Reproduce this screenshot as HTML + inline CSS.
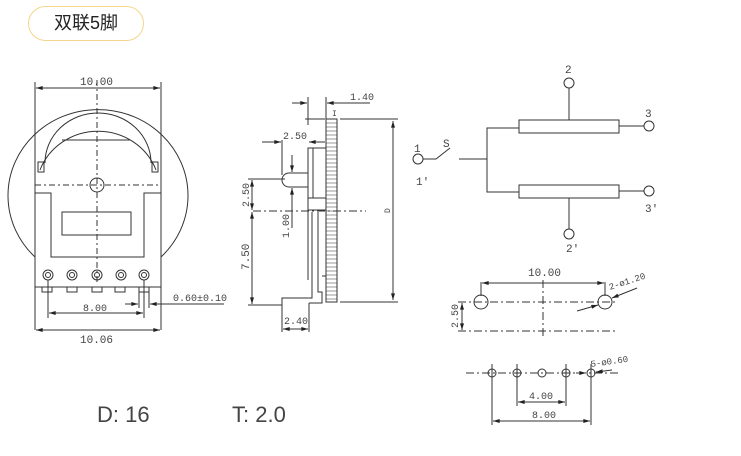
<!DOCTYPE html>
<html><head><meta charset="utf-8"><style>
body{margin:0;background:#fff;width:741px;height:456px;overflow:hidden;position:relative}
.pill{position:absolute;left:28px;top:6px;width:116px;height:35px;border:1.5px solid #f3d68c;border-radius:18px;box-sizing:border-box;font:18px "Liberation Sans","Noto Sans CJK SC",sans-serif;color:#222;text-align:center;line-height:33px}
svg{position:absolute;left:0;top:0}
text{font-family:"Liberation Mono",monospace;fill:#444}
</style></head><body>
<div class="pill">双联5脚</div>
<svg width="741" height="456" viewBox="0 0 741 456">
<defs><marker id="a" viewBox="0 0 10 6" refX="10" refY="3" markerWidth="7" markerHeight="4" orient="auto-start-reverse"><path d="M0,0L10,3L0,6z" fill="#222"/></marker></defs>
<g stroke="#333" stroke-width="1" fill="none">
<line x1="35" y1="82" x2="35" y2="330"/><line x1="161" y1="82" x2="161" y2="330"/>
<line x1="36" y1="88" x2="160" y2="88" marker-start="url(#a)" marker-end="url(#a)"/>
<path d="M35,257 A90,86 0 1,1 161,257"/>
<path d="M40,170 A62,60 0 0,1 156,170"/>
<path d="M45,163 A53,50 0 0,1 151,163"/>
<line x1="62" y1="140" x2="130" y2="140"/>
<rect x="38" y="162" width="6" height="10"/><rect x="152" y="162" width="6" height="10"/>
<polyline points="35,193 51,193 51,257 144,257 144,193 161,193"/>
<line x1="35" y1="287" x2="161" y2="287"/>
<rect x="62" y="212" width="69" height="23"/>
<circle cx="97" cy="185" r="7"/>
<g stroke-dasharray="6,3,2,3"><line x1="35" y1="185" x2="161" y2="185"/><line x1="97" y1="80" x2="97" y2="285"/></g>
<g><circle cx="48" cy="275" r="5"/><circle cx="72" cy="275" r="5"/><circle cx="97" cy="275" r="5"/><circle cx="121" cy="275" r="5"/><circle cx="144" cy="275" r="5"/>
<circle cx="48" cy="275" r="2.5"/><circle cx="72" cy="275" r="2.5"/><circle cx="97" cy="275" r="2.5"/><circle cx="121" cy="275" r="2.5"/><circle cx="144" cy="275" r="2.5"/></g>
<rect x="42" y="287" width="10" height="5"/><rect x="67" y="287" width="10" height="5"/><rect x="92" y="287" width="10" height="5"/><rect x="115" y="287" width="10" height="5"/><rect x="139" y="287" width="10" height="5"/>
<line x1="48" y1="280" x2="48" y2="318"/><line x1="144" y1="280" x2="144" y2="318"/>
<line x1="139" y1="292" x2="139" y2="308"/><line x1="149" y1="292" x2="149" y2="308"/>
<line x1="49" y1="313" x2="143" y2="313" marker-start="url(#a)" marker-end="url(#a)"/>
<line x1="125" y1="304" x2="138" y2="304" marker-end="url(#a)"/><line x1="224" y1="304" x2="150" y2="304" marker-end="url(#a)"/>
<line x1="36" y1="330" x2="160" y2="330" marker-start="url(#a)" marker-end="url(#a)"/>
<rect x="326" y="119" width="11" height="183"/>
<g stroke-width="0.6"><path d="M326,123H337M326,127H337M326,131H337M326,135H337M326,139H337M326,143H337M326,147H337M326,151H337M326,155H337M326,159H337M326,163H337M326,167H337M326,171H337M326,175H337M326,179H337M326,183H337M326,187H337M326,191H337M326,195H337M326,199H337M326,203H337M326,207H337M326,211H337M326,215H337M326,219H337M326,223H337M326,227H337M326,231H337M326,235H337M326,239H337M326,243H337M326,247H337M326,251H337M326,255H337M326,259H337M326,263H337M326,267H337M326,271H337M326,275H337M326,279H337M326,283H337M326,287H337M326,291H337M326,295H337M326,299H337"/></g>
<line x1="308" y1="97" x2="308" y2="125"/><line x1="326" y1="97" x2="326" y2="119"/>
<line x1="292" y1="103" x2="307" y2="103" marker-end="url(#a)"/><line x1="370" y1="103" x2="327" y2="103" marker-end="url(#a)"/>
<line x1="305" y1="119" x2="325" y2="119"/><line x1="340" y1="119" x2="398" y2="119"/><line x1="340" y1="302" x2="398" y2="302"/>
<line x1="393" y1="121" x2="393" y2="300" marker-start="url(#a)" marker-end="url(#a)"/>
<polyline points="326,148 308,148 308,280"/>
<rect x="308" y="198" width="18" height="12"/>
<line x1="313" y1="148" x2="313" y2="198"/>
<path d="M308,173 H289 A7,7 0 0,0 289,187 H308"/>
<line x1="282" y1="140" x2="282" y2="175"/>
<line x1="262" y1="142" x2="281" y2="142" marker-end="url(#a)"/><line x1="325" y1="142" x2="309" y2="142" marker-end="url(#a)"/>
<line x1="248" y1="179" x2="285" y2="179"/>
<line x1="252" y1="180" x2="252" y2="210" marker-start="url(#a)" marker-end="url(#a)"/>
<line x1="252" y1="212" x2="252" y2="304" marker-start="url(#a)" marker-end="url(#a)"/>
<line x1="248" y1="305" x2="282" y2="305"/>
<line x1="292" y1="155" x2="292" y2="172" marker-end="url(#a)"/><line x1="292" y1="228" x2="292" y2="188" marker-end="url(#a)"/>
<line x1="253" y1="211" x2="366" y2="211" stroke-dasharray="8,3,2,3"/>
<polyline points="312,212 312,298 282,298 282,332"/>
<polyline points="318,212 318,292 322,292 322,303 309,303"/>
<line x1="322" y1="276" x2="326" y2="276"/>
<line x1="309" y1="303" x2="309" y2="332"/>
<line x1="283" y1="329" x2="308" y2="329" marker-start="url(#a)" marker-end="url(#a)"/>
<circle cx="569" cy="83" r="5"/><line x1="569" y1="88" x2="569" y2="120"/>
<rect x="519" y="120" width="100" height="13"/><rect x="519" y="185" width="100" height="13"/>
<line x1="619" y1="126" x2="644" y2="126"/><circle cx="649" cy="126" r="5"/>
<line x1="619" y1="191" x2="644" y2="191"/><circle cx="649" cy="191" r="5"/>
<line x1="569" y1="198" x2="569" y2="229"/><circle cx="569" cy="234" r="5"/>
<polyline points="519,128 487,128 487,192 519,192"/>
<line x1="459" y1="159" x2="487" y2="159"/>
<circle cx="418" cy="159" r="5"/><polyline points="423,159 436,159 450,148"/>
<line x1="481" y1="282" x2="481" y2="296"/><line x1="605" y1="282" x2="605" y2="296"/>
<line x1="482" y1="283" x2="604" y2="283" marker-start="url(#a)" marker-end="url(#a)"/>
<circle cx="481" cy="302" r="7"/><circle cx="605" cy="302" r="7"/>
<g stroke-dasharray="8,3,2,3"><line x1="458" y1="302" x2="618" y2="302"/><line x1="458" y1="331" x2="618" y2="331"/><line x1="543" y1="280" x2="543" y2="336"/><line x1="466" y1="373" x2="620" y2="373"/></g>
<line x1="462" y1="303" x2="462" y2="330" marker-start="url(#a)" marker-end="url(#a)"/>
<line x1="637" y1="288" x2="612" y2="298" marker-end="url(#a)"/><line x1="577" y1="311" x2="598" y2="305" marker-end="url(#a)"/>
<g><circle cx="492" cy="373" r="4"/><circle cx="517" cy="373" r="4"/><circle cx="542" cy="373" r="4"/><circle cx="566" cy="373" r="4"/><circle cx="591" cy="373" r="4"/></g>
<line x1="517" y1="364" x2="517" y2="406"/><line x1="566" y1="364" x2="566" y2="406"/>
<line x1="492" y1="364" x2="492" y2="425"/><line x1="591" y1="364" x2="591" y2="425"/>
<line x1="518" y1="402" x2="565" y2="402" marker-start="url(#a)" marker-end="url(#a)"/>
<line x1="493" y1="421" x2="590" y2="421" marker-start="url(#a)" marker-end="url(#a)"/>
<line x1="576" y1="373" x2="586" y2="373" marker-end="url(#a)"/><line x1="612" y1="370" x2="596" y2="372" marker-end="url(#a)"/>
</g>
<g font-size="10">
<text x="80" y="85" font-size="11">10.00</text>
<text x="83" y="311">8.00</text>
<text x="173" y="301">0.60±0.10</text>
<text x="80" y="343" font-size="11">10.06</text>
<text x="350" y="100">1.40</text>
<text x="332" y="116" font-size="8">I</text>
<text x="283" y="139">2.50</text>
<text transform="translate(249,207) rotate(-90)">2.50</text>
<text transform="translate(249,270) rotate(-90)" font-size="11">7.50</text>
<text transform="translate(289,238) rotate(-90)">1.00</text>
<text transform="translate(390,213) rotate(-90)" font-size="8">D</text>
<text x="284" y="324">2.40</text>
<text x="565" y="73" font-size="11">2</text><text x="645" y="117" font-size="11">3</text>
<text x="645" y="212" font-size="11">3'</text><text x="566" y="252" font-size="11">2'</text>
<text x="414" y="152" font-size="11">1</text><text x="416" y="185" font-size="11">1'</text><text x="443" y="147" font-size="11">S</text>
<text x="528" y="276" font-size="11">10.00</text>
<text transform="translate(458,328) rotate(-90)">2.50</text>
<text transform="translate(610,290) rotate(-18)" font-size="9">2-ø1.20</text>
<text x="529" y="399">4.00</text><text x="532" y="418">8.00</text>
<text transform="translate(591,367) rotate(-8)" font-size="9">5-ø0.60</text>
</g>
<text x="97" y="422" style="font-family:'Liberation Sans',sans-serif;fill:#444;font-size:22px">D:  16</text>
<text x="232" y="422" style="font-family:'Liberation Sans',sans-serif;fill:#444;font-size:22px">T:  2.0</text>
</svg>
</body></html>
